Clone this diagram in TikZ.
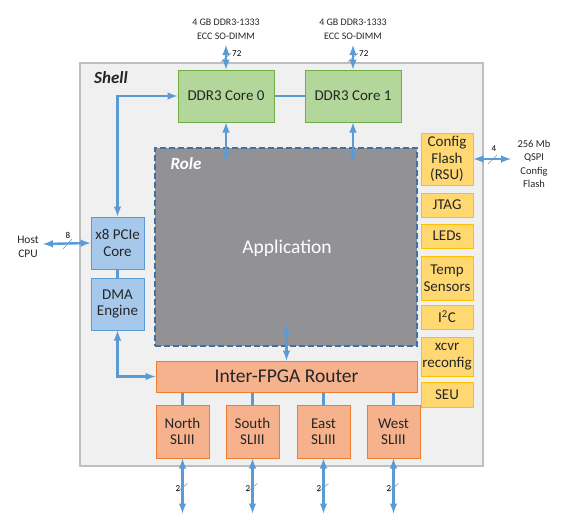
\documentclass[tikz,border=0pt]{standalone}
\usepackage{fontspec}
\setmainfont{Carlito}
\usepackage{xcolor}
\usetikzlibrary{calc}
\usetikzlibrary{positioning}

\definecolor{linkblue}{HTML}{5B9BD5}
\definecolor{shellgray}{HTML}{F0F0F0}
\definecolor{shellline}{HTML}{BFBFBF}
\definecolor{ddrfill}{HTML}{B3D69A}
\definecolor{ddrline}{HTML}{70AD47}
\definecolor{pciefill}{HTML}{A6C8EA}
\definecolor{rolefill}{HTML}{929296}
\definecolor{roleline}{HTML}{41719C}
\definecolor{routerfill}{HTML}{F5B28C}
\definecolor{routerline}{HTML}{ED7D31}
\definecolor{miscfill}{HTML}{FFD872}
\definecolor{miscline}{HTML}{FFC000}
\definecolor{textdark}{HTML}{262626}

\begin{document}
\begin{tikzpicture}[x=1pt,y=-1pt]
		\tikzstyle{block} = [draw, line width=1pt, align=center, text=textdark, inner sep=0pt, font=\fontsize{15}{16.5}\selectfont]
		\tikzstyle{ddr} = [block, fill=ddrfill, draw=ddrline, minimum width=96pt, minimum height=52pt]
		\tikzstyle{host} = [block, fill=pciefill, draw=linkblue, minimum width=53pt, minimum height=52pt]
		\tikzstyle{serial} = [block, fill=routerfill, draw=routerline, minimum width=53pt, minimum height=53pt]
		\tikzstyle{misc} = [block, fill=miscfill, draw=miscline, minimum width=52pt]
		\tikzstyle{link} = [draw=linkblue, line width=2.4pt]
		\tikzstyle{both} = [link, latex-latex]
		\tikzstyle{slash} = [draw=linkblue, line width=0.6pt]
		\tikzstyle{width} = [text=black, font=\fontsize{9}{10}\selectfont, inner sep=1pt]
		\tikzstyle{outside} = [align=center, text=textdark, font=\fontsize{11.5}{14}\selectfont]

		\useasboundingbox (0,0) rectangle (581,523);

		% shell and role
		\node[draw=shellline, fill=shellgray, line width=1.5pt, minimum width=403pt, minimum height=403pt] (Shell) at (281.5,264.5) {};
		\node[font=\fontsize{17}{18}\selectfont\bfseries\itshape, text=textdark] (ShellLabel) at (111,78) {Shell};
		\node[fill=rolefill, draw=roleline, line width=2pt, dash pattern=on 6pt off 3pt, minimum width=262pt, minimum height=198pt] (Role) at (286,247) {};
		\node[font=\fontsize{17}{18}\selectfont\bfseries\itshape, text=white] (RoleLabel) at (186,164) {Role};
		\node[font=\fontsize{19.5}{21}\selectfont, text=white] (Application) at (287,248) {Application};

		% memory
		\node[ddr] (DDR0) at (226,96) {DDR3 Core 0};
		\node[ddr] (DDR1) at (353,96) {DDR3 Core 1};

		% host side
		\node[host] (PCIe) at (117.5,243) {x8 PCIe\\Core};
		\node[host, below=8pt of PCIe] (DMA) {DMA\\Engine};

		% router and serial links
		\node[block, fill=routerfill, draw=routerline, minimum width=261pt, minimum height=31pt, font=\fontsize{19.5}{21}\selectfont] (Router) at (286.5,376.5) {Inter-FPGA Router};
		\node[serial] (North) at (182.5,431.5) {North\\SLIII};
		\node[serial, right=16pt of North] (South) {South\\SLIII};
		\node[serial, right=17pt of South] (East) {East\\SLIII};
		\node[serial, right=16pt of East] (West) {West\\SLIII};

		% peripherals
		\node[misc, minimum height=52pt] (Config) at (447,159) {Config\\Flash\\(RSU)};
		\node[misc, minimum height=24pt] (JTAG) at (447,205) {JTAG};
		\node[misc, minimum height=24pt] (LEDs) at (447,236) {LEDs};
		\node[misc, minimum height=44pt] (Temp) at (447,278) {Temp\\Sensors};
		\node[misc, minimum height=24pt] (I2C) at (447,317) {I\textsuperscript{2}C};
		\node[misc, minimum height=39pt] (Xcvr) at (447,356.5) {xcvr\\reconfig};
		\node[misc, minimum height=25pt] (SEU) at (447,394.5) {SEU};

		% outside world
		\node[outside] (HostCPU) at (28,247) {Host\\CPU};
		\node[outside, font=\fontsize{10}{14}\selectfont] (DIMM0) at (226,29) {4 GB DDR3-1333\\ECC SO-DIMM};
		\node[outside, font=\fontsize{10}{14}\selectfont] (DIMM1) at (353,29) {4 GB DDR3-1333\\ECC SO-DIMM};
		\node[outside, font=\fontsize{10.5}{13.5}\selectfont] (QSPI) at (534,164) {256 Mb\\QSPI\\Config\\Flash};

		\coordinate (HostEnd) at (43,244);
		\coordinate (DIMM0End) at (226,45);
		\coordinate (DIMM1End) at (353,45);
		\coordinate (QSPIEnd) at (511,159);
		\coordinate (Role0) at (226,162);
		\coordinate (Role1) at (353,162);
		\coordinate (RoleOut) at (286.5,325);

		% connectors
		\draw[both] (HostEnd) -- (PCIe.west);
		\draw[both] (DIMM0End) -- (DDR0.north);
		\draw[both] (DIMM1End) -- (DDR1.north);
		\draw[both] (Config.east) -- (QSPIEnd);
		\draw[both] (DDR0.south) -- (Role0);
		\draw[both] (DDR1.south) -- (Role1);
		\draw[both] (RoleOut) -- (Router.north);
		\draw[both] (PCIe.north) |- (DDR0.west);
		\draw[both] (DMA.south) |- (Router.west);
		\draw[link] (PCIe.south) -- (DMA.north);
		\draw[link] (DDR0.east) -- (DDR1.west);
		\foreach \s in {North, South, East, West} {
			\draw[link] (Router.south -| \s.north) -- (\s.north);
			\coordinate (\s End) at ($(\s.south)+(0,55)$);
			\draw[both] (\s.south) -- (\s End);
			\draw[slash] ($(\s.south)+(-5,33)$) -- ($(\s.south)+(5,25)$);
			\node[width, left] at ($(\s.south)+(-1,30)$) {2};
		}

		% bus widths
		\draw[slash] (63,249) -- (72,239);
		\node[width] at (68,235) {8};
		\draw[slash] (221,62) -- (231,53);
		\node[width, right] at (231,54) {72};
		\draw[slash] (348,62) -- (358,53);
		\node[width, right] at (358,54) {72};
		\draw[slash] (488,164) -- (497,155);
		\node[width] at (494,149) {4};

	\end{tikzpicture}
\end{document}
